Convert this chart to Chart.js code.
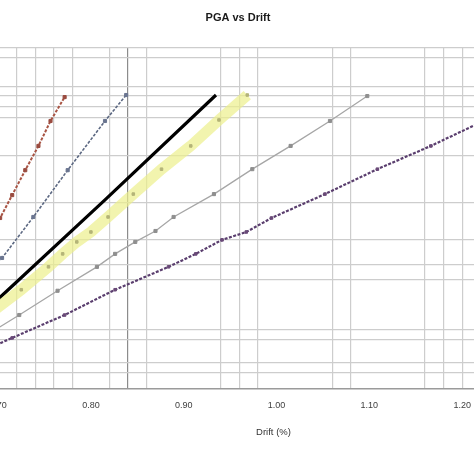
<!DOCTYPE html>
<html>
<head>
<meta charset="utf-8">
<script src="https://cdn.jsdelivr.net/npm/chart.js@4/dist/chart.umd.min.js"></script>
<style>
  html, body { margin: 0; padding: 0; background: #fff; overflow: hidden; width: 474px; height: 474px; }
  #wrap { position: absolute; left: -86px; top: 0; width: 648px; height: 474px; }
</style>
</head>
<body>
<div id="wrap"><canvas id="c" width="648" height="474"></canvas></div>
<script>
// ---- data ----
const chartTitle = "PGA vs Drift";
const xAxisTitle = "Drift (%)";
const xTickValues = [0.70, 0.80, 0.90, 1.00, 1.10, 1.20];
const xGridValues = [0.72, 0.74, 0.76, 0.78, 0.82, 0.84, 0.86, 0.94, 0.96, 0.98, 1.06, 1.08, 1.16, 1.18, 1.20];
const yGridValues = [0.047, 0.076, 0.143, 0.173, 0.319, 0.363, 0.436, 0.544, 0.684, 0.795, 0.825, 0.857, 0.886, 0.971, 1.0];

const redX = [0.6967, 0.7022, 0.7152, 0.7293, 0.7435, 0.7565, 0.7717];
const redY = [0.471, 0.500, 0.567, 0.640, 0.711, 0.784, 0.854];

const blueX = [0.6957, 0.7043, 0.7380, 0.7750, 0.8152, 0.8380];
const blueY = [0.366, 0.383, 0.503, 0.640, 0.784, 0.860];

const blackX = [0.6935, 0.8152, 0.9348];
const blackY = [0.246, 0.553, 0.860];

const yellowX = [0.6935, 0.7250, 0.7543, 0.7696, 0.7848, 0.8000, 0.8185, 0.8457, 0.8761, 0.9076, 0.9380, 0.9685];
const yellowY = [0.225, 0.290, 0.357, 0.395, 0.430, 0.459, 0.503, 0.570, 0.643, 0.711, 0.787, 0.860];

const grayX = [0.6935, 0.7228, 0.7641, 0.8065, 0.8261, 0.8478, 0.8696, 0.8891, 0.9326, 0.9739, 1.0152, 1.0576, 1.0978];
const grayY = [0.167, 0.216, 0.287, 0.357, 0.395, 0.430, 0.462, 0.503, 0.570, 0.643, 0.711, 0.784, 0.857];

const purpleX = [0.6935, 0.7152, 0.7717, 0.8261, 0.8837, 0.9130, 0.9413, 0.9674, 0.9946, 1.0522, 1.1087, 1.1663, 1.2207];
const purpleY = [0.123, 0.149, 0.216, 0.290, 0.357, 0.395, 0.436, 0.459, 0.500, 0.570, 0.643, 0.711, 0.781];

function pts(xs, ys) { return xs.map((x, i) => ({ x: x, y: ys[i] })); }

const FONT = "'Liberation Sans', Arial, sans-serif";
const X_MIN = 0.6913, X_MAX = 1.3022;

new Chart(document.getElementById('c'), {
  type: 'line',
  data: {
    datasets: [
      { label: 'band', data: pts(yellowX, yellowY), borderColor: 'rgba(236,240,140,0.7)', borderWidth: 11,
        pointStyle: 'rect', pointRadius: 1.8, pointBorderWidth: 1, pointBackgroundColor: '#b4b478', pointBorderColor: '#b4b478', tension: 0 },
      { label: 'red', data: pts(redX, redY), borderColor: '#a85444', borderWidth: 2, borderDash: [3, 1.5],
        pointStyle: 'rect', pointRadius: 2.2, pointBorderWidth: 1, pointBackgroundColor: '#9a4c40', pointBorderColor: '#9a4c40' },
      { label: 'blue', data: pts(blueX, blueY), borderColor: '#5c6882', borderWidth: 1.6, borderDash: [3, 1.5],
        pointStyle: 'rect', pointRadius: 2.2, pointBorderWidth: 1, pointBackgroundColor: '#6a7590', pointBorderColor: '#6a7590' },
      { label: 'black', data: pts(blackX, blackY), borderColor: '#000000', borderWidth: 3.2, pointRadius: 0 },
      { label: 'gray', data: pts(grayX, grayY), borderColor: '#a6a6a6', borderWidth: 1.3,
        pointStyle: 'rect', pointRadius: 2.2, pointBorderWidth: 1, pointBackgroundColor: '#8f8f8f', pointBorderColor: '#8f8f8f' },
      { label: 'purple', data: pts(purpleX, purpleY), borderColor: '#5a3e6e', borderWidth: 2.2, borderDash: [3, 1.5],
        pointStyle: 'rect', pointRadius: 1.8, pointBorderWidth: 1, pointBackgroundColor: '#6a4a78', pointBorderColor: '#6a4a78' }
    ]
  },
  options: {
    responsive: false,
    animation: false,
    devicePixelRatio: 1,
    layout: { padding: { left: 0, right: 0, top: 0, bottom: 0 } },
    plugins: {
      legend: { display: false },
      tooltip: { enabled: false },
      title: {
        display: true, text: chartTitle, color: '#1a1a1a',
        font: { family: FONT, size: 11, weight: 'bold' },
        padding: { top: 11, bottom: 23 }
      }
    },
    scales: {
      x: {
        type: 'linear', position: 'bottom', min: X_MIN, max: X_MAX,
        afterBuildTicks: (s) => { s.ticks = xTickValues.map(v => ({ value: v })); },
        ticks: { color: '#404040', font: { family: FONT, size: 9 }, padding: 11, maxRotation: 0,
                 callback: (v) => Number(v).toFixed(2) },
        grid: { display: false, drawTicks: false },
        border: { display: true, color: '#9a9a9a', width: 1.5 },
        title: { display: true, text: xAxisTitle, color: '#333', font: { family: FONT, size: 9.5 },
                 padding: { top: 5, bottom: 36 } }
      },
      xg: {
        type: 'linear', position: 'bottom', min: X_MIN, max: X_MAX,
        afterBuildTicks: (s) => { s.ticks = xGridValues.map(v => ({ value: v })); },
        afterFit: (s) => { s.height = 0; },
        ticks: { display: false },
        grid: { drawTicks: false, lineWidth: 1.2,
                color: (ctx) => (ctx.tick && Math.abs(ctx.tick.value - 0.84) < 1e-6) ? '#8c8c8c' : '#cdcdcd' },
        border: { display: false }
      },
      y: {
        type: 'linear', position: 'left', min: 0, max: 1,
        afterFit: (s) => { s.width = 76; },
        ticks: { display: false },
        grid: { display: false, drawTicks: false },
        border: { display: false }
      },
      yg: {
        type: 'linear', position: 'left', min: 0, max: 1,
        afterBuildTicks: (s) => { s.ticks = yGridValues.map(v => ({ value: v })); },
        afterFit: (s) => { s.width = 0; },
        ticks: { display: false },
        grid: { drawTicks: false, lineWidth: 1.2, color: '#cdcdcd' },
        border: { display: false }
      }
    }
  }
});
</script>
</body>
</html>
